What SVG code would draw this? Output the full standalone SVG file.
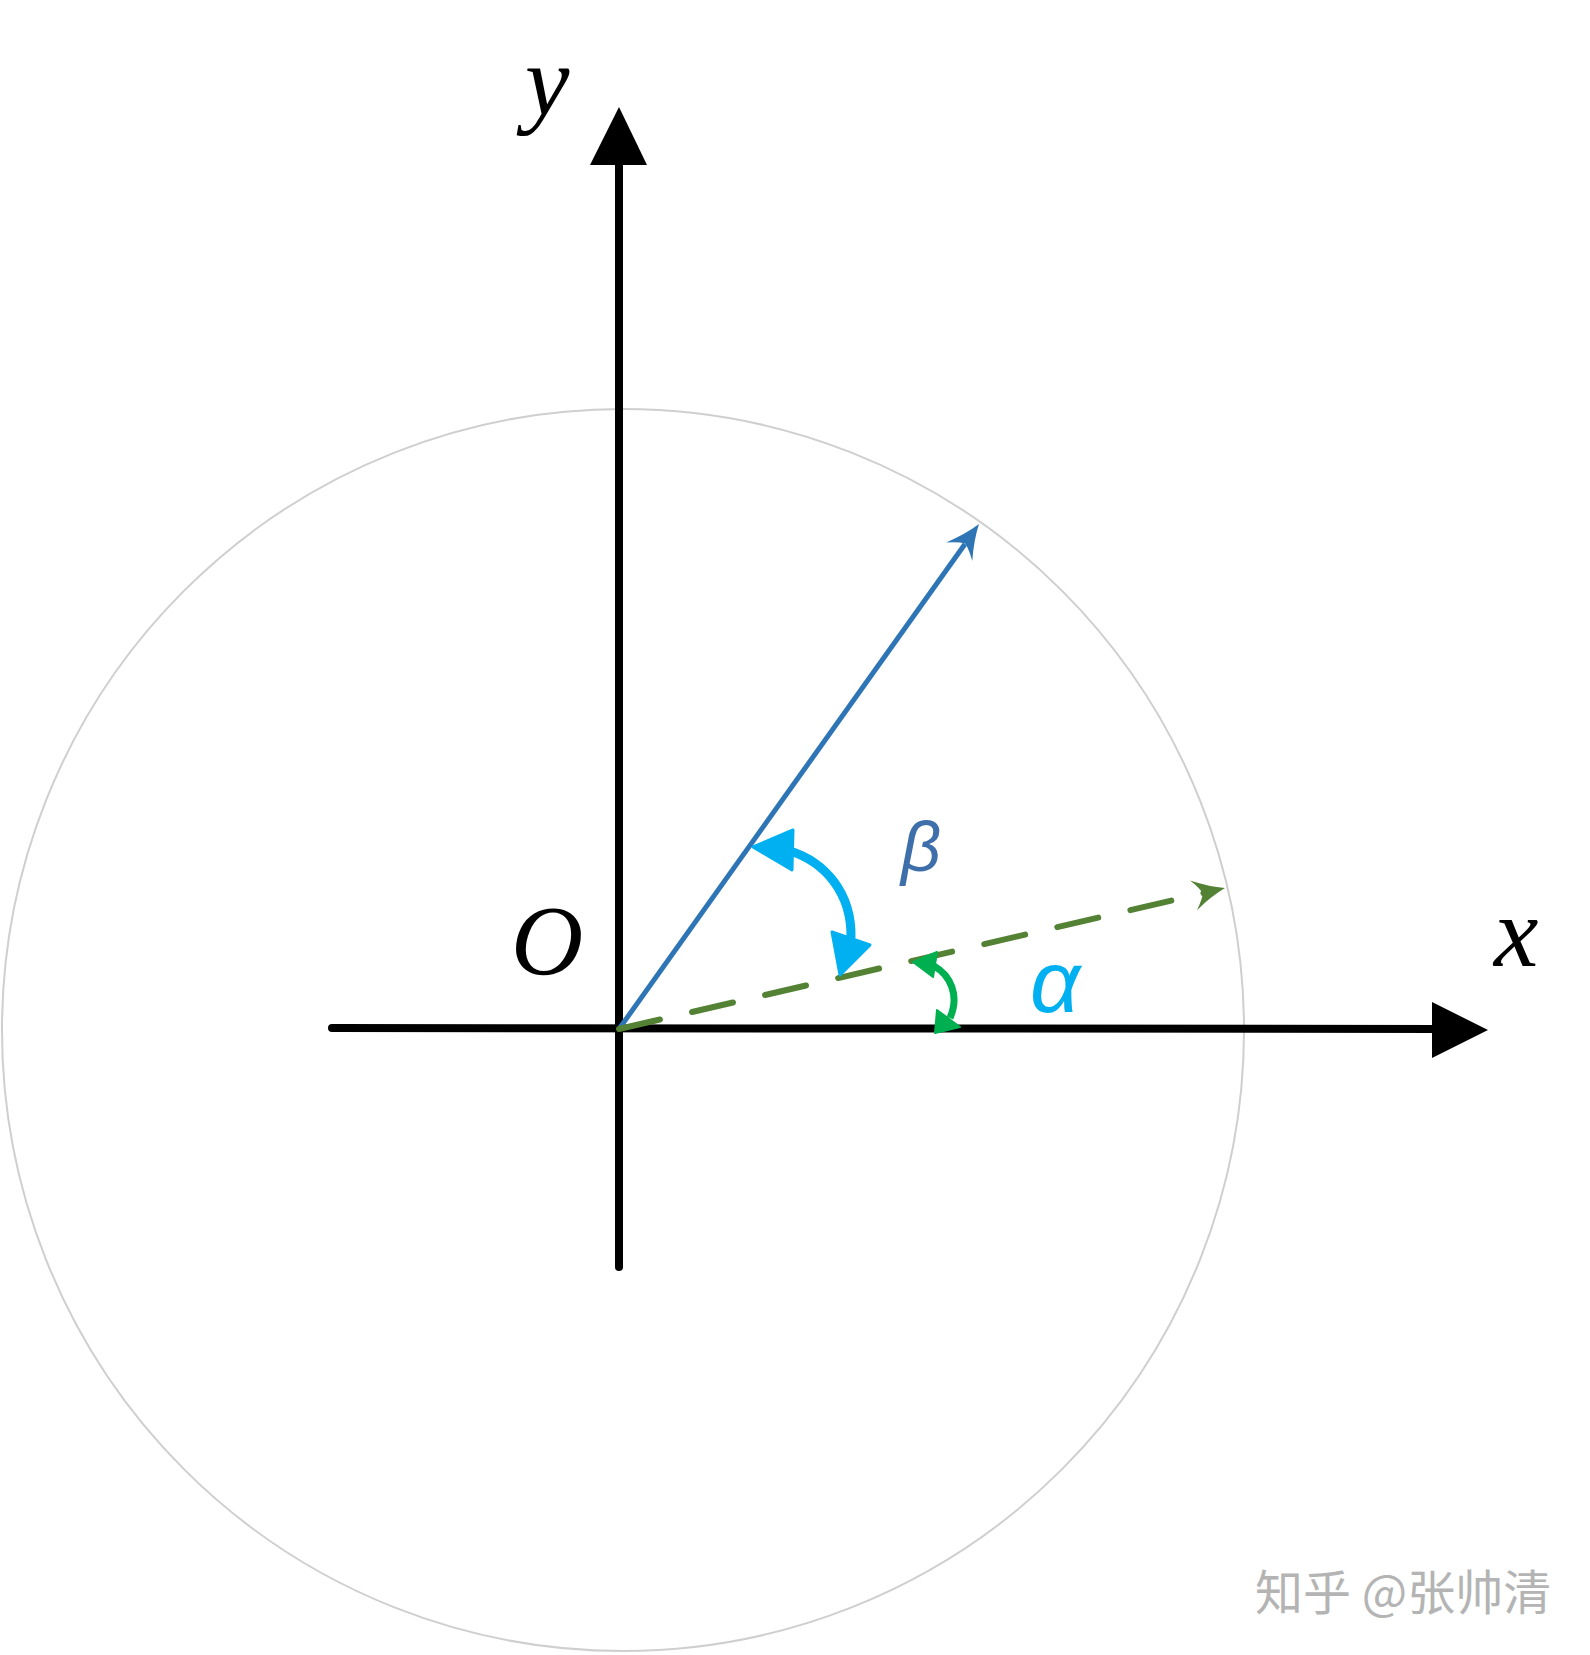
<svg xmlns="http://www.w3.org/2000/svg" width="1590" height="1655" viewBox="0 0 1590 1655">
<defs>
<style>
.axis{stroke:#000;stroke-width:8;stroke-linecap:round;fill:none}
.lbl{font-family:"Liberation Serif","Times New Roman",serif;font-style:italic;fill:#000}
.greek{font-family:"Liberation Sans",Arial,sans-serif;font-style:italic}
</style>
<path id="stealth" d="M0 0 Q-16 -5 -34 -16 Q-26 -6 -24 0 Q-26 6 -34 16 Q-16 5 0 0 Z"/>
</defs>
<rect width="1590" height="1655" fill="#fff"/>
<g id="circle"><circle cx="623" cy="1030" r="621" fill="none" stroke="#cfcfcf" stroke-width="2"/></g>
<g id="axes">
<line class="axis" x1="332" y1="1028" x2="1440" y2="1029"/>
<polygon points="1488,1030 1432,1002 1432,1058" fill="#000"/>
<line class="axis" x1="619" y1="1267" x2="619" y2="158"/>
<polygon points="619,107 590,165 647,165" fill="#000"/>
</g>
<g id="connectors">
<g id="vector-blue">
<line x1="619" y1="1029" x2="965" y2="544" stroke="#2e75b6" stroke-width="5"/>
<use href="#stealth" fill="#2e75b6" transform="translate(979 524) rotate(-54.5)"/>
</g>
<g id="vector-green">
<line x1="619" y1="1029" x2="1204" y2="893" stroke="#548235" stroke-width="6" stroke-dasharray="42 33" stroke-linecap="round"/>
<use href="#stealth" fill="#548235" transform="translate(1225 888) rotate(-13.1) scale(0.95)"/>
</g>
<g id="arc-beta">
<path d="M790 851 C825 862 852 893 851 938" fill="none" stroke="#00b0f0" stroke-width="9"/>
<polygon points="753,847 793,830 792,870" fill="#00b0f0" stroke="#00b0f0" stroke-width="3" stroke-linejoin="round"/>
<polygon points="840,975 832,932 870,945" fill="#00b0f0" stroke="#00b0f0" stroke-width="3" stroke-linejoin="round"/>
</g>
<g id="arc-alpha">
<path d="M934 966 C950 975 960 995 950 1018" fill="none" stroke="#00b050" stroke-width="7"/>
<polygon points="913,962 937,952 933,977" fill="#00b050" stroke="#00b050" stroke-width="2" stroke-linejoin="round"/>
<polygon points="935,1033 937,1010 960,1027" fill="#00b050" stroke="#00b050" stroke-width="2" stroke-linejoin="round"/>
</g>
</g>
<g id="labels">
<text id="label-y" class="lbl" x="525" y="115" font-size="100">y</text>
<text id="label-x" class="lbl" x="1494" y="966" font-size="100">x</text>
<text id="label-O" class="lbl" x="511" y="974" font-size="100">O</text>
<text id="label-beta" class="greek" x="901" y="871" font-size="70" fill="#3e6fab">β</text>
<text id="label-alpha" class="greek" x="1030" y="1012" font-size="88" fill="#00b0f0">α</text>
</g>
<g id="watermark"><text x="1255" y="1610" font-size="48" fill="#b4b4b4" font-family="'Noto Sans CJK SC','Noto Sans',sans-serif">知乎 @张帅清</text></g>
</svg>
